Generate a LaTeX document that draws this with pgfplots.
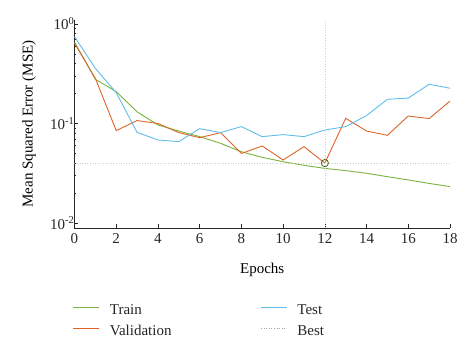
\documentclass[border=0pt]{standalone}
\usepackage{fontspec}
\setmainfont{Liberation Serif}
\usepackage{pgfplots}
\pgfplotsset{compat=1.18}
\definecolor{trainc}{RGB}{122,178,58}
\definecolor{valc}{RGB}{222,100,40}
\definecolor{testc}{RGB}{95,190,232}
\definecolor{axc}{RGB}{38,38,38}
\definecolor{bestc}{RGB}{205,205,205}
\definecolor{markc}{RGB}{70,105,30}
\begin{document}
\fontsize{15}{18}\selectfont
\begin{tikzpicture}[font=\fontsize{15}{18}\selectfont]
\path[use as bounding box] (-74.5pt,-123pt) rectangle (399.5pt,228pt);
\begin{axis}[
 at={(0,0)}, anchor=south west,
 scale only axis, width=375.5pt, height=208pt,
 ymode=log, xmin=0, xmax=18, ymin=0.00891, ymax=1.096,
 axis x line*=bottom, axis y line*=left,
 hide obscured x ticks=false, hide obscured y ticks=false,
 axis line style={axc, line width=0.8pt},
 tick align=inside, major tick length=4pt, minor tick length=2pt,
 tick style={axc, line width=0.6pt},
 xtick={0,2,...,18},
 xticklabels={0,2,4,6,8,10,12,14,16,18},
 ytick={0.01,0.1,1},
 yticklabels={10\textsuperscript{-2},10\textsuperscript{-1},10\textsuperscript{0}},
 xticklabel style={/pgf/number format/assume math mode=true, text=axc},
 yticklabel style={text=axc, xshift=5pt},
 xlabel={Epochs},
 ylabel={Mean Squared Error (MSE)},
 every axis x label/.style={at={(axis description cs:0.5,0)}, anchor=center, yshift=-42pt},
 every axis y label/.style={at={(axis description cs:0,0.5)}, xshift=-45.5pt, anchor=center, rotate=90},
 legend style={at={(axis description cs:0,0)}, anchor=north west, yshift=-74pt, xshift=-1.5pt,
   draw=none, fill=none, inner sep=0pt, outer sep=0pt, legend columns=2,
   /tikz/column 1/.style={column sep=8pt},
   /tikz/column 2/.style={column sep=87pt},
   /tikz/column 3/.style={column sep=8pt},
   row sep=3pt,
   nodes={inner sep=2pt, text height=10.5pt, text depth=3.5pt, text=axc}},
 legend cell align=left,
 legend image code/.code={\draw[#1] (0pt,3.5pt) -- (26pt,3.5pt);},
]
\addplot[trainc, line width=0.9pt, forget plot] coordinates {
(0,0.66) (1,0.278) (2,0.209) (3,0.131) (4,0.0966) (5,0.084) (6,0.0738) (7,0.0632) (8,0.052) (9,0.0457) (10,0.0413) (11,0.038) (12,0.0354) (13,0.0336) (14,0.0316) (15,0.0292) (16,0.0271) (17,0.025) (18,0.0232)};
\addplot[valc, line width=0.9pt, forget plot] coordinates {
(0,0.64) (1,0.284) (2,0.0848) (3,0.107) (4,0.1) (5,0.081) (6,0.072) (7,0.081) (8,0.050) (9,0.0594) (10,0.043) (11,0.0585) (12,0.040) (13,0.1127) (14,0.084) (15,0.076) (16,0.119) (17,0.112) (18,0.168)};
\addplot[testc, line width=0.9pt, forget plot] coordinates {
(0,0.746) (1,0.358) (2,0.204) (3,0.0815) (4,0.0683) (5,0.0657) (6,0.0887) (7,0.081) (8,0.093) (9,0.0738) (10,0.0773) (11,0.0738) (12,0.086) (13,0.093) (14,0.12) (15,0.175) (16,0.18) (17,0.248) (18,0.226)};
\addplot[bestc, dotted, line width=0.6pt, forget plot] coordinates {(0,0.040) (18,0.040)};
\addplot[bestc, dotted, line width=0.6pt, forget plot] coordinates {(12,0.00891) (12,1.096)};
\addplot[only marks, mark=o, mark size=3.6pt, markc, line width=0.8pt, forget plot] coordinates {(12,0.040)};
\addlegendimage{trainc, line width=0.9pt}
\addlegendentry{Train}
\addlegendimage{testc, line width=0.9pt}
\addlegendentry{Test}
\addlegendimage{valc, line width=0.9pt}
\addlegendentry{Validation}
\addlegendimage{bestc!80!black, dotted, line width=0.6pt}
\addlegendentry{Best}
\end{axis}
\end{tikzpicture}
\end{document}
